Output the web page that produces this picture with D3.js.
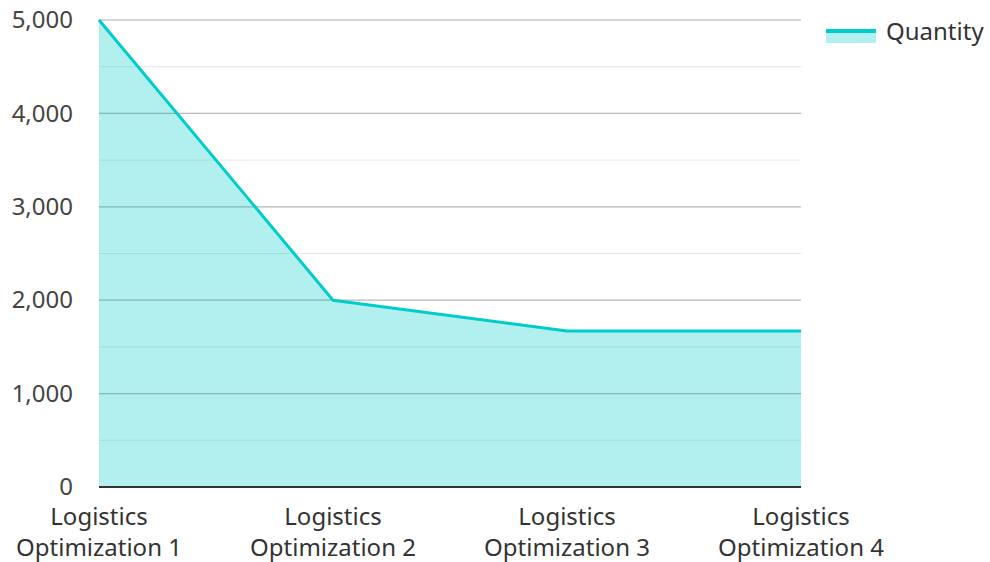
<!DOCTYPE html>
<html>
<head>
<meta charset="utf-8">
<script src="https://cdn.jsdelivr.net/npm/d3@7"></script>
<style>
  html, body { margin: 0; padding: 0; background: #fff; }
  svg { display: block; font-family: "Noto Sans", "Open Sans", sans-serif; }
</style>
</head>
<body>
<svg id="chart" width="990" height="562"></svg>
<script>
const categories = [
  ["Logistics", "Optimization 1"],
  ["Logistics", "Optimization 2"],
  ["Logistics", "Optimization 3"],
  ["Logistics", "Optimization 4"]
];
const quantity = [5000, 2000, 1670, 1670];
const seriesName = "Quantity";
const majorTicks = [0, 1000, 2000, 3000, 4000, 5000];
const minorTicks = [500, 1500, 2500, 3500, 4500];

const svg = d3.select("#chart");
const plot = { left: 99, right: 801, top: 20, bottom: 487 };
const fontSize = 24;

const x = d3.scalePoint().domain(d3.range(categories.length)).range([plot.left, plot.right]);
const y = d3.scaleLinear().domain([0, 5000]).range([plot.bottom, plot.top]);

// grid
svg.append("g").selectAll("line").data(minorTicks).join("line")
  .attr("x1", plot.left).attr("x2", plot.right)
  .attr("y1", d => y(d)).attr("y2", d => y(d))
  .attr("stroke", "#e6e6e6").attr("stroke-width", 1);
svg.append("g").selectAll("line").data(majorTicks.filter(d => d > 0)).join("line")
  .attr("x1", plot.left).attr("x2", plot.right)
  .attr("y1", d => y(d)).attr("y2", d => y(d))
  .attr("stroke", "#c8c8c8").attr("stroke-width", 1.3);

const pts = quantity.map((v, i) => [i, v]);

// area
svg.append("path")
  .datum(pts)
  .attr("d", d3.area().x(d => x(d[0])).y0(y(0)).y1(d => y(d[1])))
  .attr("fill", "rgba(0, 204, 204, 0.3)");

// gridlines faintly visible through the fill
svg.append("g").selectAll("line").data(majorTicks.filter(d => d > 0 && d < 5000)).join("line")
  .attr("x1", plot.left).attr("x2", plot.right)
  .attr("y1", d => y(d)).attr("y2", d => y(d))
  .attr("stroke", "rgba(0,0,0,0.08)").attr("stroke-width", 1.3);

// line
svg.append("path")
  .datum(pts)
  .attr("d", d3.line().x(d => x(d[0])).y(d => y(d[1])))
  .attr("fill", "none")
  .attr("stroke", "#00cccc")
  .attr("stroke-width", 3)
  .attr("stroke-linejoin", "round");

// x axis baseline
svg.append("line")
  .attr("x1", plot.left).attr("x2", plot.right)
  .attr("y1", y(0)).attr("y2", y(0))
  .attr("stroke", "#333").attr("stroke-width", 2);

// y axis labels
const yAxis = d3.axisLeft(y).tickValues(majorTicks).tickFormat(d3.format(",")).tickSize(0).tickPadding(26);
const gy = svg.append("g").attr("transform", `translate(${plot.left},0)`).call(yAxis);
gy.select(".domain").remove();
gy.selectAll("text").attr("font-size", fontSize).attr("fill", "#444")
  .style("font-family", '"Noto Sans", "Open Sans", sans-serif');

// x axis labels
const gx = svg.append("g");
categories.forEach((lines, i) => {
  const t = gx.append("text")
    .attr("x", x(i)).attr("y", 525)
    .attr("text-anchor", "middle")
    .attr("font-size", fontSize).attr("fill", "#333");
  lines.forEach((ln, k) => {
    t.append("tspan").attr("x", x(i)).attr("dy", k === 0 ? 0 : 31).text(ln);
  });
});

// legend
const lg = svg.append("g").attr("transform", "translate(826,31)");
lg.append("rect").attr("x", 0).attr("y", 0).attr("width", 50).attr("height", 12)
  .attr("fill", "rgba(0, 204, 204, 0.3)");
lg.append("line").attr("x1", 0).attr("x2", 50).attr("y1", 0).attr("y2", 0)
  .attr("stroke", "#00cccc").attr("stroke-width", 4);
lg.append("text").attr("x", 60).attr("y", 9).attr("font-size", fontSize).attr("fill", "#333")
  .text(seriesName);
</script>
</body>
</html>
